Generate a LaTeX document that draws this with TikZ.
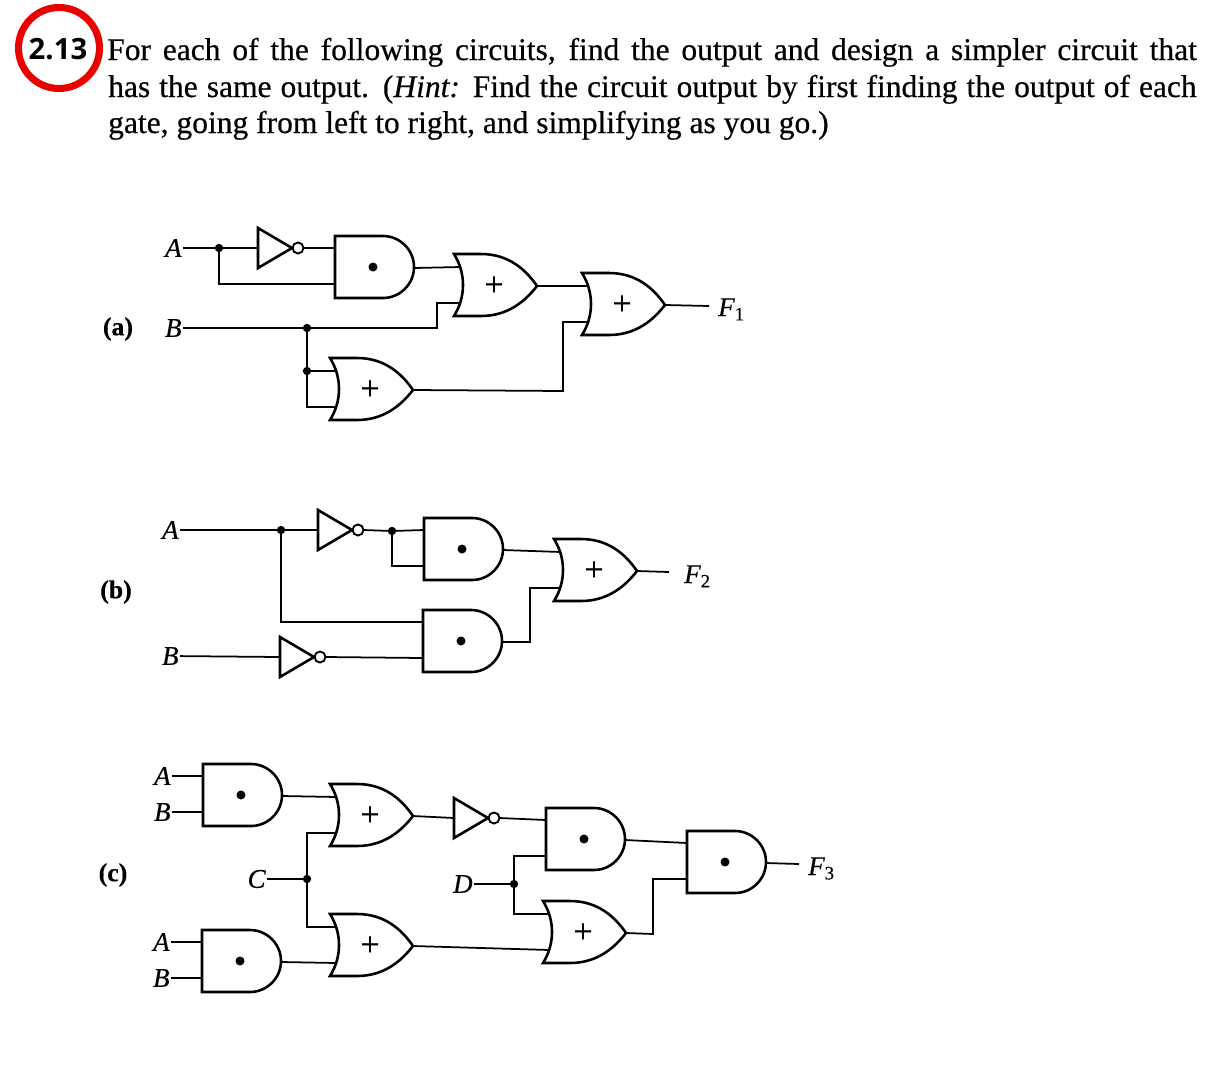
\documentclass[tikz,border=0pt]{standalone}
\usepackage{fontspec}
\setmainfont[FakeBold=0.5]{Liberation Serif}
\newfontfamily\numfont{Open Sans}
\newfontfamily\partfont[FakeBold=0.2]{Liberation Serif Bold}
\usetikzlibrary{calc}
\tikzset{
	wire/.style={line width=1.5pt, line join=miter},
	gate/.style={line width=2.2pt, line join=miter},
	jdot/.style={circle, fill=black, inner sep=0pt, minimum size=0.25cm},
	lbl/.style={inner sep=1pt, font=\fontsize{23}{23}\selectfont\itshape},
	partlbl/.style={inner sep=0pt, font=\fontsize{22}{22}\selectfont\bfseries},
	body/.style={inner sep=0pt, anchor=base west, font=\fontsize{26.9}{27}\selectfont},
	sign/.style={inner sep=0pt, font=\fontsize{29}{29}\selectfont}
}
% gates are given by their left edge and centre line
\def\andgate(#1)(#2,#3){
	\draw[gate] (#2, #3-31) -- (#2+48, #3-31) .. controls (#2+65, #3-31) and (#2+79, #3-17) .. (#2+79, #3)
		.. controls (#2+79, #3+17) and (#2+65, #3+31) .. (#2+48, #3+31) -- (#2, #3+31) -- cycle;
	\fill (#2+38, #3) circle (4.5);
	\coordinate (#1-a) at (#2, #3-19);
	\coordinate (#1-b) at (#2, #3+17);
	\coordinate (#1-o) at (#2+79, #3+1);
}
\def\orgate(#1)(#2,#3){
	\draw[gate] (#2, #3-31) -- (#2+27, #3-31) .. controls (#2+55, #3-31) and (#2+72, #3-15) .. (#2+83, #3+1)
		.. controls (#2+72, #3+15) and (#2+55, #3+31) .. (#2+27, #3+31) -- (#2, #3+31)
		.. controls (#2+12, #3+12) and (#2+12, #3-12) .. cycle;
	\node[sign] (#1-s) at (#2+40, #3+1) {+};
	\coordinate (#1-a) at (#2+7, #3-18);
	\coordinate (#1-b) at (#2+7, #3+18);
	\coordinate (#1-o) at (#2+83, #3+1);
}
\def\notgate(#1)(#2,#3){
	\draw[gate] (#2, #3-20) -- (#2+34, #3) -- (#2, #3+20) -- cycle;
	\draw[line width=1.6pt] (#2+40, #3) circle (5.5);
	\coordinate (#1-a) at (#2, #3);
	\coordinate (#1-o) at (#2+45.5, #3);
}

\begin{document}
\begin{tikzpicture}[x=0.03cm, y=-0.03cm]
	%%%%% HEADER %%%%%
	\useasboundingbox (0, 0) rectangle (1216, 1088);
	
	\draw[line width=6pt, color=red!92!black] (59, 48) circle (40.5);
	\node[inner sep=0pt, font=\fontsize{25}{25}\selectfont\numfont\bfseries] (num) at (58, 49) {2.13};
	\node[body] (line1) at (107, 60) {\makebox[930pt][s]{For each of the following circuits, find the output and design a simpler circuit that}};
	\node[body] (line2) at (108, 97) {\makebox[929pt][s]{has the same output. (\textit{Hint:} Find the circuit output by first finding the output of each}};
	\node[body] (line3) at (108, 133) {gate, going from left to right, and simplifying as you go.)};
	
	%%%%% PART A %%%%%
	\node[partlbl] (pa) at (118, 329) {(a)};
	\node[lbl, anchor=east] (aA) at (183, 248) {A};
	\node[lbl, anchor=east] (aB) at (183, 328) {B};
	\notgate(an1)(258,248);
	\andgate(aa1)(335,267);
	\orgate(ao1)(454,285);
	\orgate(ao2)(582,304);
	\orgate(ao3)(330,389);
	\node[jdot] (ja1) at (219, 248) {};
	\node[jdot] (ja2) at (307, 328) {};
	\node[jdot] (ja3) at (307, 371) {};
	\coordinate (ea) at (709, 306);
	\node[lbl, anchor=base west, inner sep=0pt] (aF) at (718, 316) {F\textsubscript{\upshape 1}};
	
	\draw[wire] (aA) -- (ja1.center) -- (an1-a);
	\draw[wire] (an1-o) -- (aa1-a);
	\draw[wire] (ja1.center) |- (aa1-b);
	\draw[wire] (aa1-o) -- (ao1-a);
	\draw[wire] (aB) -- (ja2.center) -- (437, 328) |- (ao1-b);
	\draw[wire] (ja2.center) -- (ja3.center) -- (ao3-a);
	\draw[wire] (ja3.center) |- (ao3-b);
	\draw[wire] (ao1-o) -- (ao2-a);
	\draw[wire] (ao3-o) -- (563, 391) |- (ao2-b);
	\draw[wire] (ao2-o) -- (ea);
	
	%%%%% PART B %%%%%
	\node[partlbl] (pb) at (116, 592) {(b)};
	\node[lbl, anchor=east] (bA) at (180, 530) {A};
	\node[lbl, anchor=east] (bB) at (180, 656) {B};
	\notgate(bn1)(318,530);
	\notgate(bn2)(280,657);
	\andgate(ba1)(424,549);
	\andgate(ba2)(423,641);
	\orgate(bo1)(554,570);
	\node[jdot] (jb1) at (281, 530) {};
	\node[jdot] (jb2) at (392, 531) {};
	\coordinate (eb) at (669, 572);
	\node[lbl, anchor=base west, inner sep=0pt] (bF) at (684, 583) {F\textsubscript{\upshape 2}};
	
	\draw[wire] (bA) -- (jb1.center) -- (bn1-a);
	\draw[wire] (bn1-o) -- (jb2.center) -- (ba1-a);
	\draw[wire] (jb2.center) |- (ba1-b);
	\draw[wire] (jb1.center) |- (ba2-a);
	\draw[wire] (bB) -- (bn2-a);
	\draw[wire] (bn2-o) -- (ba2-b);
	\draw[wire] (ba1-o) -- (bo1-a);
	\draw[wire] (ba2-o) -- (530, 642) |- (bo1-b);
	\draw[wire] (bo1-o) -- (eb);
	
	%%%%% PART C %%%%%
	\node[partlbl] (pc) at (113, 875) {(c)};
	\node[lbl, anchor=east] (cA1) at (172, 776) {A};
	\node[lbl, anchor=east] (cB1) at (172, 812) {B};
	\node[lbl, anchor=east] (cA2) at (171, 942) {A};
	\node[lbl, anchor=east] (cB2) at (171, 978) {B};
	\node[lbl, anchor=east] (cC) at (267, 879) {C};
	\node[lbl, anchor=east] (cD) at (474, 884) {D};
	\andgate(ca1)(203,795);
	\andgate(ca2)(202,961);
	\andgate(ca3)(546,839);
	\andgate(ca4)(687,862);
	\orgate(co1)(330,815);
	\orgate(co2)(330,945);
	\orgate(co3)(543,932);
	\notgate(cn1)(454,818);
	\node[jdot] (jc1) at (307, 879) {};
	\node[jdot] (jc2) at (514, 884) {};
	\coordinate (ec) at (799, 864);
	\node[lbl, anchor=base west, inner sep=0pt] (cF) at (808, 875) {F\textsubscript{\upshape 3}};
	
	\draw[wire] (cA1) -- (ca1-a);
	\draw[wire] (cB1) -- (ca1-b);
	\draw[wire] (cA2) -- (ca2-a);
	\draw[wire] (cB2) -- (ca2-b);
	\draw[wire] (ca1-o) -- (co1-a);
	\draw[wire] (ca2-o) -- (co2-b);
	\draw[wire] (cC) -- (jc1.center);
	\draw[wire] (jc1.center) |- (co1-b);
	\draw[wire] (jc1.center) |- (co2-a);
	\draw[wire] (co1-o) -- (cn1-a);
	\draw[wire] (cn1-o) -- (ca3-a);
	\draw[wire] (cD) -- (jc2.center);
	\draw[wire] (jc2.center) |- (ca3-b);
	\draw[wire] (jc2.center) |- (co3-a);
	\draw[wire] (co2-o) -- (co3-b);
	\draw[wire] (ca3-o) -- (ca4-a);
	\draw[wire] (co3-o) -- (653, 934) |- (ca4-b);
	\draw[wire] (ca4-o) -- (ec);
	
	%%%%% END %%%%%
\end{tikzpicture}
\end{document}
